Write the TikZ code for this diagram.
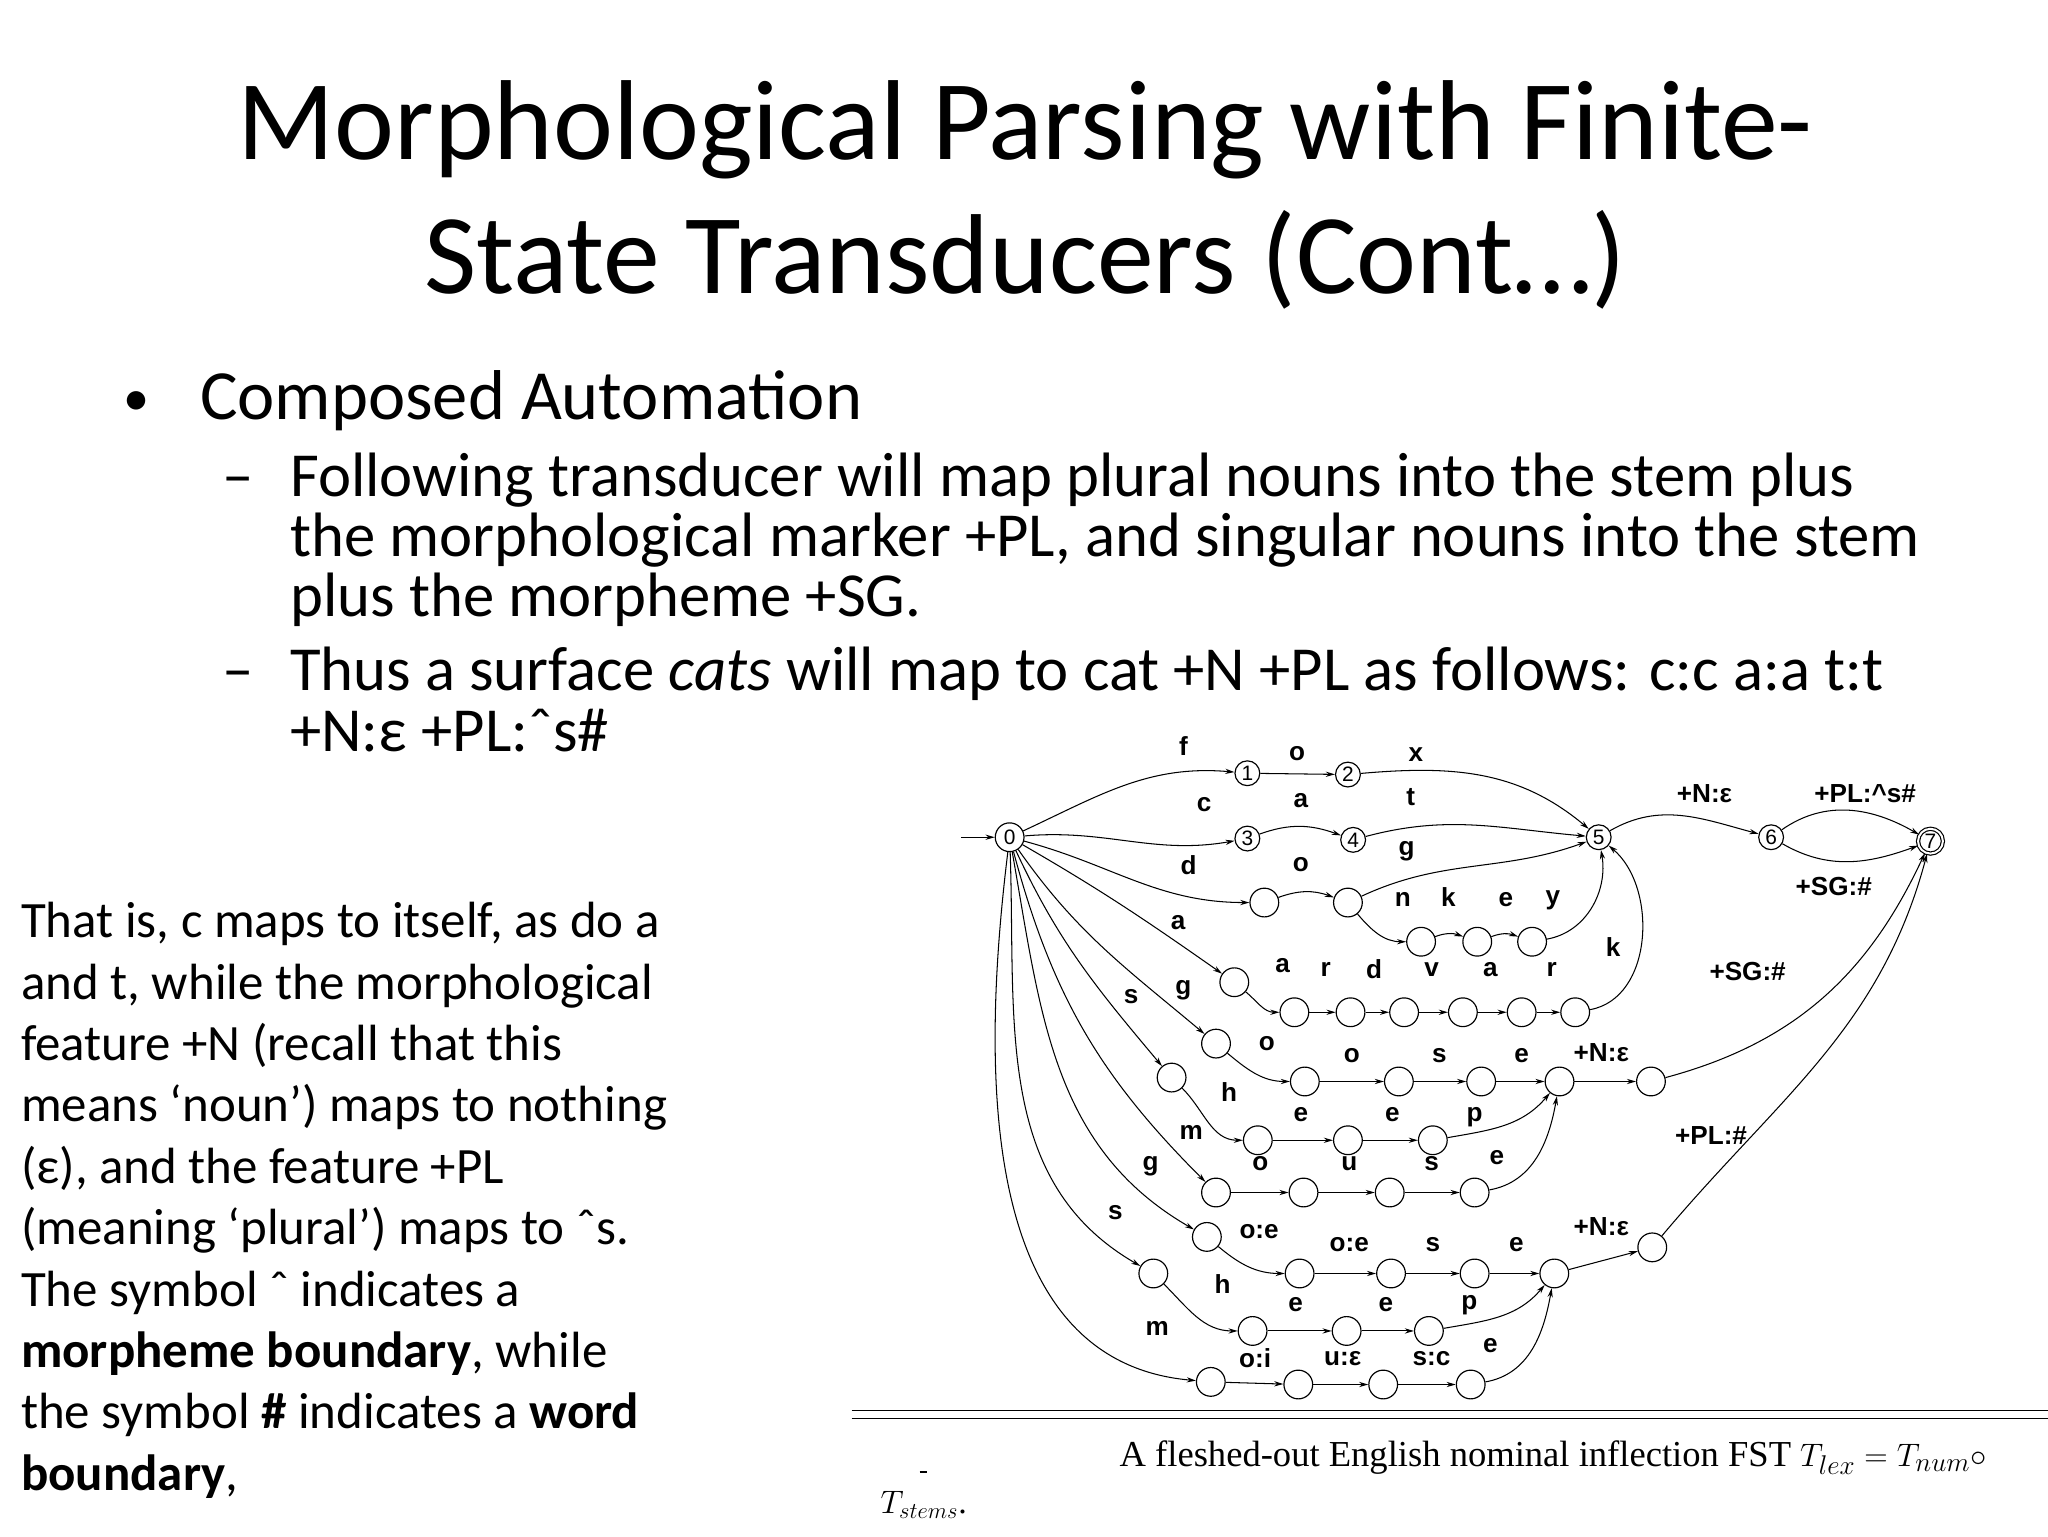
\documentclass[tikz,border=0pt]{standalone}
\usepackage{fontspec}
\setmainfont{Carlito}
\newfontfamily\arialf{Liberation Sans}
\newfontfamily\timesf{Liberation Serif}
\usetikzlibrary{arrows.meta}
\begin{document}
\begin{tikzpicture}[x=1pt,y=-1pt,
 st/.style={circle,draw,line width=0.9pt,minimum size=22pt,inner sep=0pt,font=\arialf\fontsize{16}{16}\selectfont},
 fin/.style={st,double,double distance=1.5pt,minimum size=19pt},
 ed/.style={-{Stealth[length=7pt,width=4pt]},line width=0.8pt},
 lb/.style={font=\arialf\bfseries\fontsize{20}{20}\selectfont,inner sep=0pt},
 tx/.style={anchor=base west,inner sep=0pt,font=\fontsize{#1}{#1}\selectfont},
]
\useasboundingbox (0,0) rectangle (1568,1176);
% title
\node[inner sep=0pt,anchor=base,font=\fontsize{87}{87}\selectfont] (title1) at (785,122) {Morphological Parsing with Finite-};
\node[inner sep=0pt,anchor=base,font=\fontsize{87}{87}\selectfont] (title2) at (785,225) {State Transducers (Cont…)};
\node[tx=40] (b1) at (94,318) {•};
\node[tx=54] (b1t) at (153,321) {Composed Automation};
\node[tx=48] (d1m) at (170,380) {–};
\node[tx=48] (s1a) at (222,380) {Following transducer will map plural nouns into the stem plus};
\node[tx=48] (s1b) at (222,426) {the morphological marker +PL, and singular nouns into the stem};
\node[tx=48] (s1c) at (222,472) {plus the morpheme +SG.};
\node[tx=48] (d2m) at (170,529) {–};
\node[tx=48] (s2a) at (222,529) {Thus a surface \textit{cats} will map to cat +N +PL as follows: c:c a:a t:t};
\node[tx=48] (s2b) at (222,575) {+N:ε +PL:ˆs\#};
\node[tx=39] (l1) at (16,718) {That is, c maps to itself, as do a};
\node[tx=39] (l2) at (16,765) {and t, while the morphological};
\node[tx=39] (l3) at (16,812) {feature +N (recall that this};
\node[tx=39] (l4) at (16,859) {means ‘noun’) maps to nothing};
\node[tx=39] (l5) at (16,906) {(ε), and the feature +PL};
\node[tx=39] (l6) at (16,953) {(meaning ‘plural’) maps to ˆs.};
\node[tx=39] (l7) at (16,1000) {The symbol ˆ indicates a};
\node[tx=39] (l8) at (16,1047) {\textbf{morpheme boundary}, while};
\node[tx=39] (l9) at (16,1094) {the symbol \textbf{\#} indicates a \textbf{word}};
\node[tx=39] (l10) at (16,1141) {\textbf{boundary},};
% rules and caption
\draw[line width=1.2pt] (652,1080) -- (1568,1080);
\draw[line width=1.2pt] (652,1086) -- (1568,1086);
\node[inner sep=0pt,anchor=west,font=\timesf\fontsize{28}{28}\selectfont] (cap) at (857,1116) {A fleshed-out English nominal inflection FST $T_{lex}=T_{num}\circ$};
\node[inner sep=0pt,anchor=west,font=\timesf\fontsize{26}{26}\selectfont] (cap2) at (674,1152) {$T_{stems}$.};
\draw[line width=1pt] (704,1127) -- (710,1127);
% states
\node[st] (q0) at (773,641) {0};
\node[st,minimum size=19pt] (q1) at (955,592) {1};
\node[st,minimum size=19pt] (q2) at (1032,593) {2};
\node[st,minimum size=19pt] (q3) at (955,642) {3};
\node[st,minimum size=19pt] (q4) at (1036,643) {4};
\node[st,minimum size=19pt] (q5) at (1224,641) {5};
\node[st,minimum size=19pt] (q6) at (1356,641) {6};
\node[fin] (q7) at (1478,644) {7};
\node[st] (d1) at (968,691) {}; \node[st] (d2) at (1032,691) {};
\node[st] (n1) at (1088,721) {}; \node[st] (n2) at (1131,721) {}; \node[st] (n3) at (1173,721) {};
\node[st] (a0) at (945,752) {};
\node[st] (a1) at (991,775) {}; \node[st] (a2) at (1034,775) {}; \node[st] (a3) at (1075,775) {};
\node[st] (a4) at (1120,775) {}; \node[st] (a5) at (1165,775) {}; \node[st] (a6) at (1206,775) {};
\node[st] (g0) at (931,799) {};
\node[st] (g1) at (999,828) {}; \node[st] (g2) at (1071,828) {}; \node[st] (g3) at (1134,828) {};
\node[st] (g4) at (1194,828) {}; \node[st] (g5) at (1264,828) {};
\node[st] (s0) at (897,825) {};
\node[st] (h1) at (963,873) {}; \node[st] (h2) at (1032,873) {}; \node[st] (h3) at (1097,873) {};
\node[st] (m0) at (931,913) {}; \node[st] (m1) at (998,913) {}; \node[st] (m2) at (1064,913) {}; \node[st] (m3) at (1129,913) {};
\node[st] (G0) at (924,947) {};
\node[st] (G1) at (995,975) {}; \node[st] (G2) at (1065,975) {}; \node[st] (G3) at (1129,975) {};
\node[st] (G4) at (1190,975) {}; \node[st] (G5) at (1265,955) {};
\node[st] (S0) at (883,975) {};
\node[st] (H1) at (959,1019) {}; \node[st] (H2) at (1031,1019) {}; \node[st] (H3) at (1094,1019) {};
\node[st] (M0) at (927,1058) {};
\node[st] (M1) at (994,1060) {}; \node[st] (M2) at (1059,1060) {}; \node[st] (M3) at (1126,1060) {};
\coordinate (start) at (736,641);
% edges
\draw[ed] (start) -- (q0);
\draw[ed] (q0) to[out=25,in=175] (q1);
\draw[ed] (q1) -- (q2);
\draw[ed] (q2) to[out=5,in=140] (q5);
\draw[ed] (q0) to[out=5,in=190] (q3);
\draw[ed] (q3) to[out=20,in=160] (q4);
\draw[ed] (q4) to[out=15,in=175] (q5);
\draw[ed] (q0) to[out=-15,in=180] (d1);
\draw[ed] (d1) to[out=20,in=160] (d2);
\draw[ed] (d2) to[out=25,in=200] (q5);
\draw[ed] (d2) to[out=-50,in=180] (n1);
\draw[ed] (n1) to[out=20,in=160] (n2);
\draw[ed] (n2) to[out=20,in=160] (n3);
\draw[ed] (n3) to[out=10,in=-80] (q5);
\draw[ed] (q0) to[out=-30,in=145] (a0);
\draw[ed] (a0) to[out=-40,in=180] (a1);
\draw[ed] (a1) -- (a2); \draw[ed] (a2) -- (a3); \draw[ed] (a3) -- (a4); \draw[ed] (a4) -- (a5); \draw[ed] (a5) -- (a6);
\draw[ed] (a6) to[out=10,in=-40] (q5);
\draw[ed] (q5) to[out=30,in=165] (q6);
\draw[ed] (q6) to[out=35,in=150] (q7);
\draw[ed] (q6) to[out=-30,in=-160] (q7);
\draw[ed] (q0) to[out=-55,in=140] (g0);
\draw[ed] (g0) to[out=-40,in=180] (g1);
\draw[ed] (g1) -- (g2); \draw[ed] (g2) -- (g3); \draw[ed] (g3) -- (g4); \draw[ed] (g4) -- (g5);
\draw[ed] (g5) to[out=15,in=-115] (q7);
\draw[ed] (q0) to[out=-65,in=130] (s0);
\draw[ed] (s0) to[out=-45,in=180] (h1);
\draw[ed] (h1) -- (h2); \draw[ed] (h2) -- (h3);
\draw[ed] (h3) to[out=10,in=-130] (g4);
\draw[ed] (q0) to[out=-75,in=135] (m0);
\draw[ed] (m0) -- (m1); \draw[ed] (m1) -- (m2); \draw[ed] (m2) -- (m3);
\draw[ed] (m3) to[out=10,in=-100] (g4);
\draw[ed] (q0) to[out=-80,in=150] (G0);
\draw[ed] (G0) to[out=-40,in=180] (G1);
\draw[ed] (G1) -- (G2); \draw[ed] (G2) -- (G3); \draw[ed] (G3) -- (G4);
\draw[ed] (G4) to[out=15,in=195] (G5);
\draw[ed] (G5) to[out=50,in=-105] (q7);
\draw[ed] (q0) to[out=-88,in=150] (S0);
\draw[ed] (S0) to[out=-45,in=180] (H1);
\draw[ed] (H1) -- (H2); \draw[ed] (H2) -- (H3);
\draw[ed] (H3) to[out=10,in=-130] (G4);
\draw[ed] (q0) to[out=-97,in=175] (M0);
\draw[ed] (M0) -- (M1); \draw[ed] (M1) -- (M2); \draw[ed] (M2) -- (M3);
\draw[ed] (M3) to[out=10,in=-100] (G4);
% labels
\node[lb] (L1) at (906,571) {f}; \node[lb] (L2) at (993,577) {o}; \node[lb] (L3) at (1084,578) {x};
\node[lb] (L4) at (922,616) {c}; \node[lb] (L5) at (996,613) {a}; \node[lb] (L6) at (1080,610) {t};
\node[lb] (L7) at (910,662) {d}; \node[lb] (L8) at (996,662) {o}; \node[lb] (L9) at (1077,652) {g};
\node[lb] (L10) at (1074,689) {n}; \node[lb] (L11) at (1109,687) {k}; \node[lb] (L12) at (1153,689) {e}; \node[lb] (L13) at (1189,689) {y};
\node[lb] (L14) at (902,706) {a}; \node[lb] (L15) at (982,739) {a}; \node[lb] (L16) at (1015,742) {r};
\node[lb] (L17) at (1052,742) {d}; \node[lb] (L18) at (1096,742) {v}; \node[lb] (L19) at (1141,742) {a};
\node[lb] (L20) at (1188,742) {r}; \node[lb] (L21) at (1235,725) {k};
\node[lb] (L22) at (866,763) {s}; \node[lb] (L23) at (906,758) {g}; \node[lb] (L24) at (970,799) {o};
\node[lb] (L25) at (1035,808) {o}; \node[lb] (L26) at (1102,808) {s}; \node[lb] (L27) at (1165,808) {e};
\node[lb] (L28) at (1226,806) {+N:ε};
\node[lb] (L29) at (941,836) {h}; \node[lb] (L30) at (996,853) {e}; \node[lb] (L31) at (1066,853) {e}; \node[lb] (L32) at (1129,855) {p};
\node[lb] (L33) at (912,867) {m}; \node[lb] (L34) at (965,891) {o}; \node[lb] (L35) at (1033,891) {u};
\node[lb] (L36) at (1096,891) {s}; \node[lb] (L37) at (1146,886) {e};
\node[lb] (L38) at (881,893) {g}; \node[lb] (L39) at (854,928) {s};
\node[lb] (L40) at (964,943) {o:e}; \node[lb] (L41) at (1033,953) {o:e}; \node[lb] (L42) at (1097,953) {s}; \node[lb] (L43) at (1161,953) {e};
\node[lb] (L44) at (1226,939) {+N:ε};
\node[lb] (L45) at (936,983) {h}; \node[lb] (L46) at (992,999) {e}; \node[lb] (L47) at (1061,999) {e}; \node[lb] (L48) at (1125,999) {p};
\node[lb] (L49) at (886,1017) {m}; \node[lb] (L50) at (961,1040) {o:i}; \node[lb] (L51) at (1028,1040) {u:ε};
\node[lb] (L52) at (1096,1040) {s:c}; \node[lb] (L53) at (1141,1030) {e};
\node[lb] (L54) at (1305,608) {+N:ε}; \node[lb] (L55) at (1428,608) {+PL:\^{}s\#};
\node[lb] (L56) at (1404,679) {+SG:\#}; \node[lb] (L57) at (1338,744) {+SG:\#}; \node[lb] (L58) at (1310,869) {+PL:\#};
\end{tikzpicture}
\end{document}
